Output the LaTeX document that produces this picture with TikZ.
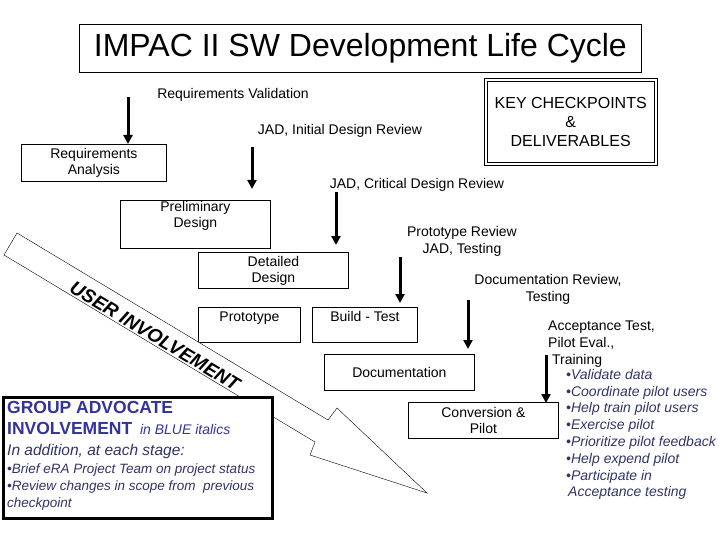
\documentclass[tikz,border=0pt]{standalone}
\usepackage{fontspec}
\setmainfont{Liberation Sans}
\usepackage{tikz}
\definecolor{advblue}{RGB}{51,51,153}
\definecolor{listblue}{RGB}{51,51,102}
\tikzset{
  stage/.style={draw, thick, minimum width=#1, minimum height=35pt, align=center, inner sep=1pt, font=\fontsize{14}{16}\selectfont, anchor=north west},
  stage/.default=150pt,
  check/.style={font=\fontsize{14}{17}\selectfont, align=center},
  down/.style={line width=3pt, -{Triangle[length=9pt,width=9pt]}}
}
\usetikzlibrary{arrows.meta}
\begin{document}
\begin{tikzpicture}[x=1pt,y=-1pt]
  \useasboundingbox (0,0) rectangle (720,540);
  %%%%% TITLE %%%%%
  \node[draw, thick, minimum width=562pt, minimum height=48pt, anchor=north west,
        font=\fontsize{32}{34}\selectfont] (title) at (79,24) {IMPAC II SW Development Life Cycle};
  \draw (484,78) rectangle (657,165);
  \node[draw, minimum width=167pt, minimum height=81pt, anchor=north west, align=center,
        font=\fontsize{16}{19}\selectfont] (key) at (487,81) {KEY CHECKPOINTS\\\&\\DELIVERABLES};

  %%%%% STAGES %%%%%
  \node[stage=145pt, minimum height=37pt] (reqan) at (21,144) {Requirements\\Analysis};
  \node[stage, minimum height=34pt, anchor=north west, align=center] (prelim) at (120,200) {Preliminary\\Design\\[4pt]};
  \node[stage, minimum height=36pt] (detail) at (198,252) {Detailed\\Design};
  \node[stage=102pt, text depth=16pt] (proto) at (198,307) {Prototype};
  \node[stage=105pt, text depth=16pt] (build) at (312,307) {Build - Test};
  \node[stage, minimum height=36pt] (docu) at (324,354) {Documentation};
  \node[stage, minimum height=36pt] (conv) at (408,402) {Conversion \&\\Pilot};

  %%%%% CHECKPOINTS %%%%%
  \node[check] (reqval) at (233,95) {Requirements Validation};
  \node[check] (jadinit) at (340,131) {JAD, Initial Design Review};
  \node[check] (jadcrit) at (417,185) {JAD, Critical Design Review};
  \node[check] (protorev) at (462,241) {Prototype Review\\JAD, Testing};
  \node[check] (docrev) at (548,289) {Documentation Review,\\Testing};
  \node[check, align=left, anchor=north west, inner sep=0pt] (accept) at (548,321) {Acceptance Test,\\Pilot Eval.,\\\ Training};

  \coordinate (a1) at (128,97);  \coordinate (b1) at (128,144);
  \coordinate (a2) at (252,147); \coordinate (b2) at (252,189);
  \coordinate (a3) at (336,192); \coordinate (b3) at (336,245);
  \coordinate (a4) at (400,257); \coordinate (b4) at (400,303);
  \coordinate (a5) at (468,300); \coordinate (b5) at (468,349);
  \coordinate (a6) at (546,355); \coordinate (b6) at (546,403);
  \foreach \i in {1,...,6} \draw[down] (a\i) -- (b\i);

  %%%%% USER INVOLVEMENT ARROW %%%%%
  \draw[fill=white] (17,233) -- (328,420) -- (337,408) -- (427,493) -- (310,455)
        -- (315,442) -- (4,255) -- cycle;
  \node[rotate=-31, font=\bfseries\itshape\fontsize{19}{20}\selectfont] (user) at (155,336) {USER INVOLVEMENT};

  %%%%% ADVOCATE BOX %%%%%
  \node[draw, line width=2.5pt, fill=white, minimum width=269pt, minimum height=121pt,
        anchor=north west, inner sep=0pt] (advbox) at (2,396) {};
  \node[anchor=north west, align=left, inner sep=0pt, font=\fontsize{14}{21}\selectfont, text=advblue]
     (adv) at (7,401) {\textbf{\fontsize{17.5}{21}\selectfont GROUP ADVOCATE}\\
     \textbf{\fontsize{17.5}{21}\selectfont INVOLVEMENT}\ \ \textit{in BLUE italics}};
  \node[anchor=north west, align=left, inner sep=0pt, text=listblue,
        font=\itshape\fontsize{13.5}{17}\selectfont] (advlist) at (7,444)
     {{\fontsize{15.5}{17}\selectfont In addition, at each stage:}\\[1pt]
      \textbullet Brief eRA Project Team on project status\\
      \textbullet Review changes in scope from\ \ previous\\checkpoint};

  %%%%% PILOT TASKS %%%%%
  \node[anchor=north west, align=left, inner sep=0pt, text=listblue,
        font=\itshape\fontsize{14}{16.8}\selectfont] (tasks) at (566,369)
     {\textbullet Validate data\\ \textbullet Coordinate pilot users\\
      \textbullet Help train pilot users\\ \textbullet Exercise pilot\\
      \textbullet Prioritize pilot feedback\\ \textbullet Help expend pilot\\
      \textbullet Participate in\\ \hspace{2pt}Acceptance testing};
\end{tikzpicture}
\end{document}
